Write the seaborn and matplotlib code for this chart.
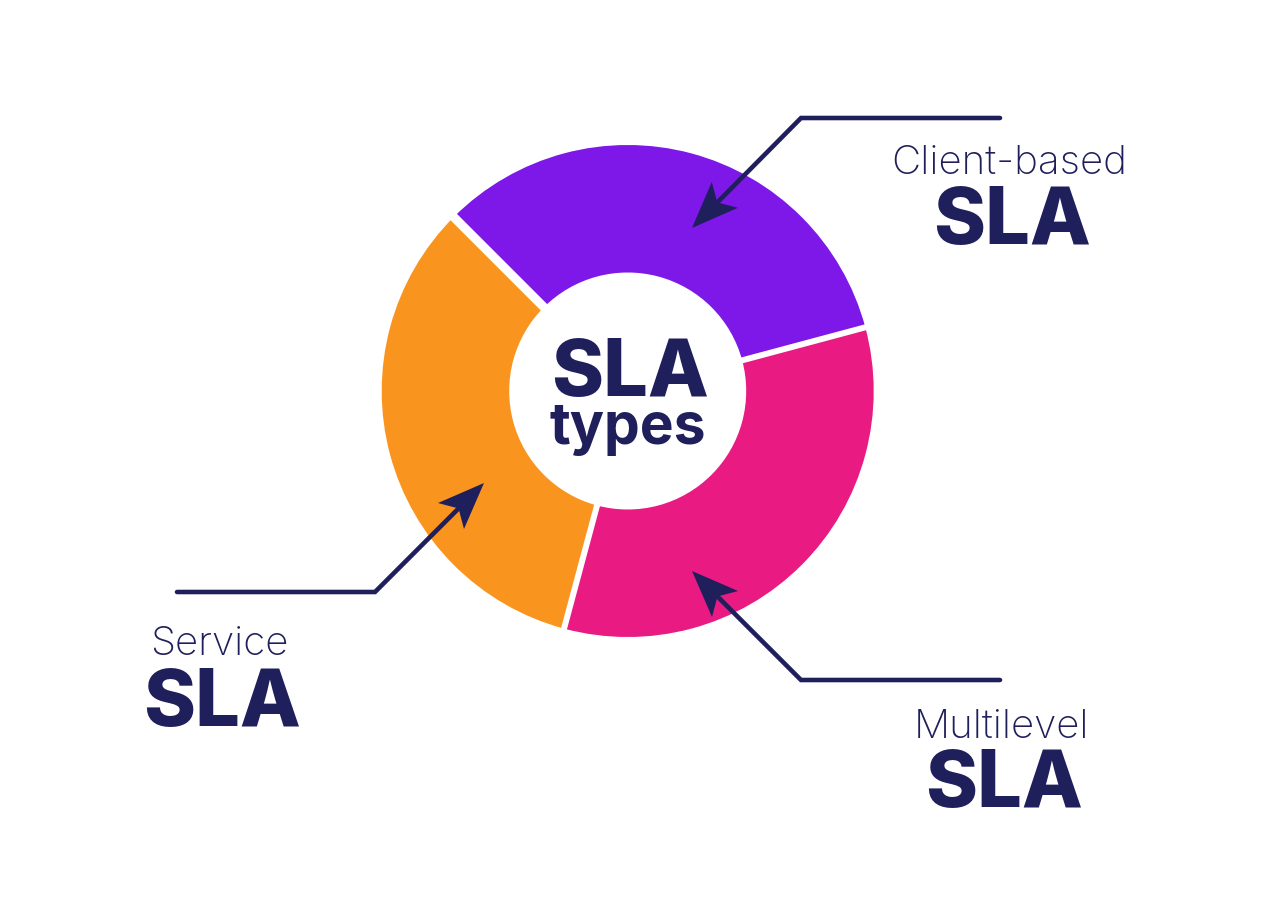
import matplotlib
matplotlib.use('Agg')
import matplotlib.pyplot as plt
import numpy as np
import seaborn as sns

# three equal slices, counter clockwise from the right side
slice_names = ['Client-based', 'Service', 'Multilevel']
slice_values = [1, 1, 1]
slice_colors = ['#7D18E8', '#F9951F', '#E91A82']
navy = '#1F1F5C'

W, H = 1276, 899
cx, cy = 627.7, 391
r_out, r_in = 246, 118.5
start = 15
# white gap after each slice, in pixels
gaps = [9, 6, 6]

sns.set_theme(style='white')
plt.rcParams['font.family'] = ['Inter', 'DejaVu Sans']

def flip(py):
    # picture pixels run downwards
    return H - py

def callout(ax, x0, x1, y, tip):
    tx, ty = tip
    d = np.array([x1 - tx, y - ty], dtype=float)
    d /= np.linalg.norm(d)
    n = np.array([-d[1], d[0]])
    t = np.array([tx, ty], dtype=float)
    notch = t + 36 * d
    ax.plot([x0, x1, notch[0]], [flip(y), flip(y), flip(notch[1])], color=navy, lw=3.3,
            solid_capstyle='round', solid_joinstyle='miter', zorder=3)
    # stealth arrow head
    pts = [t, t + 46.7 * d + 18.4 * n, notch, t + 46.7 * d - 18.4 * n]
    ax.fill([p[0] for p in pts], [flip(p[1]) for p in pts], color=navy, lw=0, zorder=4)

def label(ax, x, y, s, size, weight):
    ax.text(x, flip(y), s, ha='center', va='baseline', color=navy,
            fontsize=size, fontweight=weight)

fig = plt.figure(figsize=(W / 100, H / 100), dpi=100)
ax = fig.add_axes([0, 0, 1, 1])

ax.pie(slice_values, colors=sns.color_palette(slice_colors), startangle=start,
       center=(cx, flip(cy)), radius=r_out,
       wedgeprops=dict(width=r_out - r_in, linewidth=0))
ax.set_xlim(0, W)
ax.set_ylim(0, H)
ax.axis('off')

# white gaps between the slices
edges = start + np.cumsum(slice_values) / np.sum(slice_values) * 360
for a, g in zip(edges, gaps):
    c, s = np.cos(np.radians(a)), np.sin(np.radians(a))
    ax.plot([cx + (r_in - 3) * c, cx + (r_out + 3) * c],
            [flip(cy) + (r_in - 3) * s, flip(cy) + (r_out + 3) * s],
            color='white', lw=g * 0.72, solid_capstyle='butt', zorder=2)

callout(ax, 1000, 801, 118, (692, 228))
callout(ax, 1000, 801, 680, (692, 571))
callout(ax, 177, 375, 592, (484, 483))

label(ax, 1009, 174, 'Client-based', 29, 'light')
label(ax, 1012, 244, 'SLA', 57, 800)
label(ax, 219, 655, 'Service', 29, 'light')
label(ax, 222, 726, 'SLA', 57, 800)
label(ax, 1001, 738, 'Multilevel', 29, 'light')
label(ax, 1004, 807, 'SLA', 57, 800)
label(ax, 630, 396, 'SLA', 57, 800)
label(ax, 628, 444, 'types', 41, 'bold')

fig.savefig('out.png', dpi=100)
